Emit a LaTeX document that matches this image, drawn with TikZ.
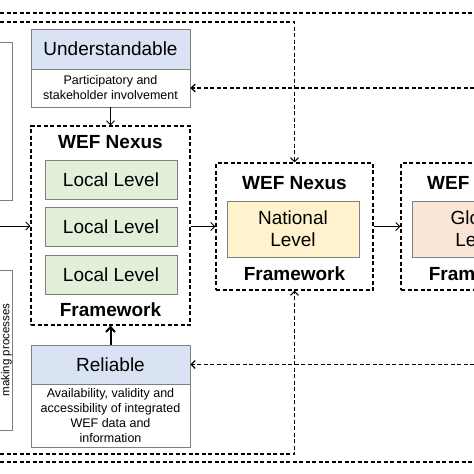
\documentclass[tikz,border=0pt]{standalone}
\usepackage{fontspec}
\setmainfont{Liberation Sans}
\usetikzlibrary{arrows.meta}
\definecolor{hblue}{HTML}{DAE3F3}
\definecolor{lgreen}{HTML}{E2F0D9}
\definecolor{lyellow}{HTML}{FFF2CC}
\definecolor{lpink}{HTML}{FBE5D6}
\definecolor{bgray}{HTML}{7F7F7F}
\begin{document}
\begin{tikzpicture}[x=1pt,y=-1pt,
  big/.style={font=\fontsize{19}{22}\selectfont},
  bigb/.style={font=\fontsize{19}{22}\selectfont\bfseries},
  small/.style={font=\fontsize{12.5}{15}\selectfont, align=center},
  cbox/.style={draw=bgray, line width=0.9pt, inner sep=0pt, align=center},
  dbox/.style={draw=black, line width=1.1pt, dash pattern=on 4pt off 2.5pt},
  dl/.style={draw=black, line width=1.1pt, dash pattern=on 4pt off 2.5pt},
  arr/.style={-{Straight Barb[length=4pt,width=8pt]}, line width=1pt},
  darr/.style={dl, -{Straight Barb[length=4pt,width=8pt]}},
  thickarr/.style={-{Straight Barb[length=5pt,width=9pt]}, line width=2pt},
  lbox/.style={draw=bgray, line width=1pt, inner sep=0pt}
]
\useasboundingbox (0,0) rectangle (474,474);
\clip (0,0) rectangle (474,474);
\fill[white] (0,0) rectangle (474,474);

% left partial boxes
\node[lbox, minimum width=162pt, minimum height=158pt] (lb1) at (-69,121) {};
\node[lbox, minimum width=162pt, minimum height=160pt] (lb2) at (-69,350) {};
\node[rotate=90, anchor=base, font=\fontsize{11.5}{14}\selectfont] (lbt) at (9.3,350) {making processes};

% Understandable
\node[cbox, fill=hblue, big, minimum width=159pt, minimum height=40pt] (undh) at (110.5,49) {Understandable};
\node[cbox, fill=white, small, minimum width=159pt, minimum height=38pt] (undb) at (110.5,88) {Participatory and\\stakeholder involvement};

% Local WEF box
\node[dbox, minimum width=159pt, minimum height=199pt] (loc) at (110.5,225.5) {};
\node[bigb] (locT) at (110.5,142) {WEF Nexus};
\node[cbox, fill=lgreen, big, minimum width=132pt, minimum height=39pt] (l1) at (111,179.5) {Local Level};
\node[cbox, fill=lgreen, big, minimum width=132pt, minimum height=39pt] (l2) at (111,227) {Local Level};
\node[cbox, fill=lgreen, big, minimum width=132pt, minimum height=39pt] (l3) at (111,274.5) {Local Level};
\node[bigb] (locF) at (110.5,310) {Framework};

% Reliable
\node[cbox, fill=hblue, big, minimum width=159pt, minimum height=39pt] (relh) at (110.5,364.5) {Reliable};
\node[cbox, fill=white, small, minimum width=159pt, minimum height=63pt] (relb) at (110.5,415.5) {Availability, validity and\\accessibility of integrated\\WEF data and\\information};

% National
\node[dbox, minimum width=157pt, minimum height=127pt] (nat) at (294.5,226.5) {};
\node[bigb] (natT) at (294.5,183) {WEF Nexus};
\node[cbox, fill=lyellow, font=\fontsize{19}{22}\selectfont, minimum width=132pt, minimum height=56pt] (natL) at (293,229) {National\\Level};
\node[bigb] (natF) at (294.5,274) {Framework};

% Global
\node[dbox, minimum width=157pt, minimum height=127pt] (glob) at (479.5,226.5) {};
\node[bigb] (globT) at (479.5,183) {WEF Nexus};
\node[cbox, fill=lpink, font=\fontsize{19}{22}\selectfont, minimum width=132pt, minimum height=56pt] (globL) at (478,229) {Global\\Level};
\node[bigb] (globF) at (479.5,274) {Framework};

% free ends
\coordinate (in0) at (0,226);
\coordinate (t1) at (0,13);
\coordinate (t2) at (474,13);
\coordinate (c22) at (0,22);
\coordinate (r88) at (474,88);
\coordinate (r364) at (474,364.5);
\coordinate (c454) at (0,454);
\coordinate (b1) at (0,462);
\coordinate (b2) at (474,462);

% solid arrows
\draw[arr] (in0) -- (loc.west |- in0);
\draw[arr] (loc.east |- nat.west) -- (nat.west);
\draw[arr] (nat.east) -- (glob.west);
\draw[arr] (undb.south) -- (loc.north);
\draw[thickarr] (relh.north) -- (loc.south);

% dashed lines
\draw[dl] (t1) -- (t2);
\draw[darr] (c22) -| (nat.north);
\draw[darr] (r88) -- (undb.east);
\draw[darr] (r364) -- (relh.east);
\draw[darr] (c454) -| (nat.south);
\draw[dl] (b1) -- (b2);
\end{tikzpicture}
\end{document}
